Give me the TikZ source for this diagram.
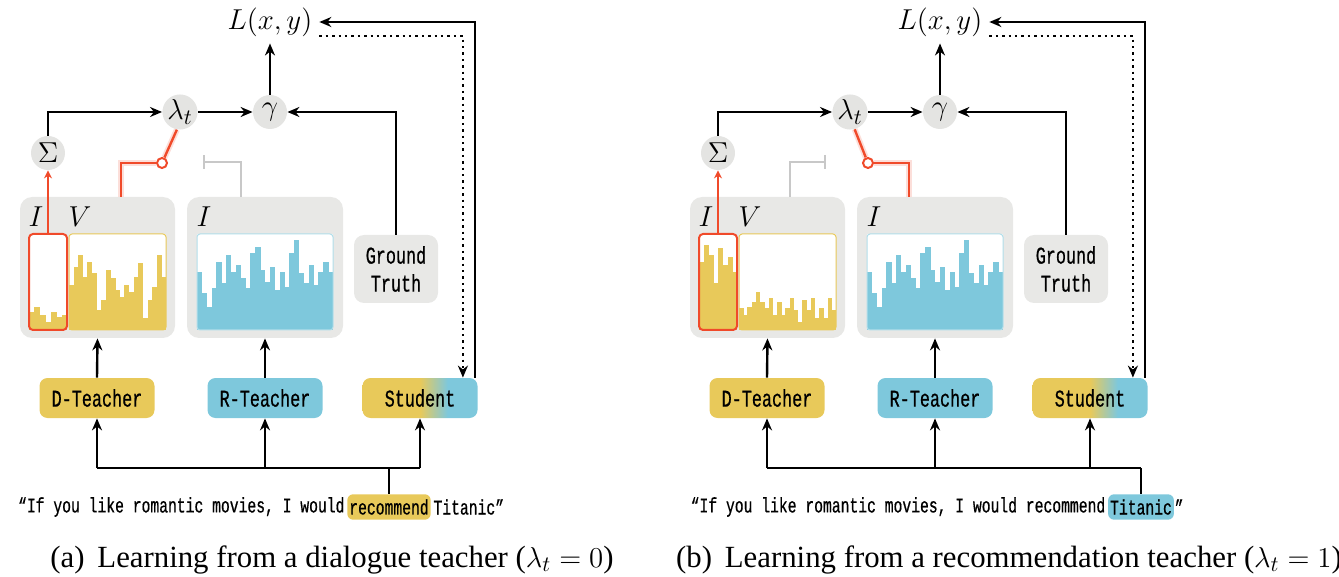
\documentclass[tikz,border=0pt]{standalone}
\usepackage{fontspec}
\setmainfont{Liberation Serif}
\newfontfamily\tw{Liberation Mono}[FakeStretch=0.7,FakeBold=0.6]
\usetikzlibrary{arrows.meta,calc}
\definecolor{yel}{HTML}{E8C95A}
\definecolor{blu}{HTML}{7EC8DC}
\definecolor{pgr}{HTML}{E8E8E6}
\definecolor{cgr}{HTML}{E4E4E2}
\definecolor{rd}{HTML}{F04A2A}
\definecolor{lg}{HTML}{C8C8C8}
\pgfdeclarehorizontalshading{stud}{100bp}{color(0bp)=(yel); color(50bp)=(yel); color(62bp)=(blu); color(100bp)=(blu)}
\tikzset{
  arr/.style={line width=1.2pt,-{Stealth[length=6pt,width=5pt]}},
  ln/.style={line width=1.2pt},
  circ/.style={circle,fill=cgr,minimum size=17pt,inner sep=0pt,font=\fontsize{15}{15}\selectfont},
  panel/.style={rounded corners=6pt,fill=pgr,inner sep=0pt},
  box/.style={rounded corners=4pt,minimum width=57.5pt,minimum height=20pt,inner sep=0pt,font=\tw\fontsize{12}{12}\selectfont},
  gt/.style={rounded corners=5pt,fill=pgr,minimum width=42pt,minimum height=34pt,inner sep=0pt,align=center,font=\tw\fontsize{12}{14}\selectfont},
  qt/.style={inner sep=1pt,font=\tw\fontsize{10.5}{10.5}\selectfont},
  hl/.style={qt,rounded corners=3pt,inner ysep=2.5pt},
  lab/.style={font=\fontsize{15}{15}\selectfont},
  red line/.style={rd,line width=1.2pt},
  glow/.style={rd!35,line width=3pt,opacity=0.5},
  sw/.style={circle,draw=rd,line width=1pt,fill=white,minimum size=5pt,inner sep=0pt},
}
\newcommand\histo[5]{%
  \pgfmathsetmacro\hw{(#2-#1)/#3}%
  \foreach \h [count=\i] in {#5}{%
    \fill[#4] ({#1+(\i-1)*\hw},\h) rectangle ({#1+\i*\hw+0.4},330);
  }%
}
\newcommand\common[1]{%
  \node[lab] (L#1) at (270,22) {$L(x,y)$};
  \node[circ] (lam#1) at (180,112) {$\lambda_t$};
  \node[circ] (gam#1) at (270,112) {$\gamma$};
  \node[circ] (sig#1) at (48,153) {$\Sigma$};
  \node[panel,minimum width=77.5pt,minimum height=70.5pt] (dp#1) at (97.5,267.5) {};
  \node[panel,minimum width=78pt,minimum height=70.5pt] (rp#1) at (265,267.5) {};
  \node[gt] (gt#1) at (396,269) {Ground\\Truth};
  \node[box,fill=yel] (dt#1) at (97,398) {D-Teacher};
  \node[box,fill=blu] (rt#1) at (265,398) {R-Teacher};
  \node[box,shade,shading=stud] (st#1) at (420,398) {Student};
  \node[lab] (i1#1) at (36,217) {$I$};
  \node[lab] (v#1) at (80,217) {$V$};
  \node[lab] (i2#1) at (204,217) {$I$};
  \fill[white] (69,234) rectangle (166,330);
  \fill[white] (197,234) rectangle (333,330);
  \histo{197}{333}{28}{blu}{272,293,307,288,262,283,255,272,265,278,288,253,247,270,282,267,290,272,287,253,240,273,283,265,285,272,262,272}
  \draw[blu!60,line width=0.5pt,rounded corners=1.5pt] (197,234) rectangle (333,330);
  \draw[arr] (sig#1.north) |- (lam#1.west);
  \draw[arr] (lam#1.east) -- (gam#1.west);
  \draw[arr] (gt#1.north) |- (gam#1.east);
  \draw[arr] (gam#1.north) -- (L#1.south);
  \draw[arr] (dt#1.north) -- (dp#1.south);
  \draw[arr] (rt#1.north) -- (rp#1.south);
  \coordinate (so#1) at ($(st#1.north east)+(-3,0)$);
  \coordinate (sd#1) at ($(st#1.north east)+(-15,0)$);
  \coordinate (le#1) at ($(L#1.east)+(0,14)$);
  \draw[arr] (so#1) |- (L#1.east);
  \draw[line width=1.2pt,dotted,-{Stealth[length=6pt,width=5pt]}] (le#1) -| (sd#1);
  \coordinate (bd#1) at (97,468);
  \coordinate (br#1) at (265,468);
  \coordinate (bs#1) at (420,468);
  \draw[arr] (bd#1) -- (dt#1.south);
  \draw[arr] (br#1) -- (rt#1.south);
  \draw[arr] (bs#1) -- (st#1.south);
}
\begin{document}
\begin{tikzpicture}[x=0.5pt,y=-0.5pt]
\useasboundingbox (0,0) rectangle (1339,577);
% ---------- panel (a)
\begin{scope}
\common{a}
\histo{69}{166}{21}{yel}{285,267,255,277,262,273,310,300,270,278,290,297,285,292,277,263,318,300,287,255,277}
\draw[yel,line width=0.5pt,rounded corners=1.5pt] (69,234) rectangle (166,330);
\fill[white] (29,234) rectangle (67,330);
\histo{29}{67}{7}{yel}{312,307,315,322,312,317,315}
\node[draw=rd,line width=1pt,rounded corners=2pt,minimum width=19pt,minimum height=48pt,inner sep=0pt] (iba) at (48,282) {};
\draw[red line,-{Stealth[length=4pt,width=4pt]}] (iba.north) -- (siga.south);
\node[sw] (swa) at (162,163) {};
\coordinate (paa) at (121,197);
\draw[glow] (lama.-100) -- (swa);
\draw[glow] (swa.west) -| (paa);
\draw[red line] (lama.-100) -- (swa);
\draw[red line] (swa.west) -| (paa);
\coordinate (gaa) at (241,197);
\coordinate (gba) at (203,162);
\draw[lg,line width=1pt,-{Bar[width=7pt]}] (gaa) |- (gba);
\node[hl,fill=yel] (hla) at (389,507) {recommend};
\node[qt,anchor=east] (q1a) at (hla.west) {“If you like romantic movies, I would};
\node[qt,anchor=west] (q2a) at (hla.east) {Titanic”};
\coordinate (bja) at (389,468);
\draw[ln] (bda) -- (bsa);
\draw[ln] (bja) -- (hla.north);
\node[font=\fontsize{15.4}{16}\selectfont] (capa) at (332,560) {(a)\, Learning from a dialogue teacher ($\lambda_t=0$)};
\end{scope}
% ---------- panel (b)
\begin{scope}[xshift=335pt]
\common{b}
\histo{69}{166}{23}{yel}{308,315,307,302,292,302,308,298,315,302,315,308,298,310,322,300,310,298,318,308,318,298,310}
\draw[yel,line width=0.5pt,rounded corners=1.5pt] (69,234) rectangle (166,330);
\fill[white] (29,234) rectangle (67,330);
\histo{29}{67}{8}{yel}{262,245,255,283,248,265,257,272}
\node[draw=rd,line width=1pt,rounded corners=2pt,minimum width=19pt,minimum height=48pt,inner sep=0pt] (ibb) at (48,282) {};
\draw[red line,-{Stealth[length=4pt,width=4pt]}] (ibb.north) -- (sigb.south);
\node[sw] (swb) at (198,163) {};
\coordinate (pab) at (239,197);
\draw[glow] (lamb.-75) -- (swb);
\draw[glow] (swb.east) -| (pab);
\draw[red line] (lamb.-75) -- (swb);
\draw[red line] (swb.east) -| (pab);
\coordinate (gab) at (120,197);
\coordinate (gbb) at (156,162);
\draw[lg,line width=1pt,-{Bar[width=7pt]}] (gab) |- (gbb);
\node[hl,fill=blu] (hlb) at (471,507) {Titanic};
\node[qt,anchor=east] (q1b) at (hlb.west) {“If you like romantic movies, I would recommend};
\node[qt,anchor=west,inner xsep=0pt] (q2b) at (hlb.east) {”};
\coordinate (bjb) at (471,468);
\draw[ln] (bdb) -- (bjb);
\draw[ln] (bjb) -- (hlb.north);
\node[font=\fontsize{15.4}{16}\selectfont] (capb) at (339,560) {(b)\, Learning from a recommendation teacher ($\lambda_t=1$)};
\end{scope}
\end{tikzpicture}
\end{document}
